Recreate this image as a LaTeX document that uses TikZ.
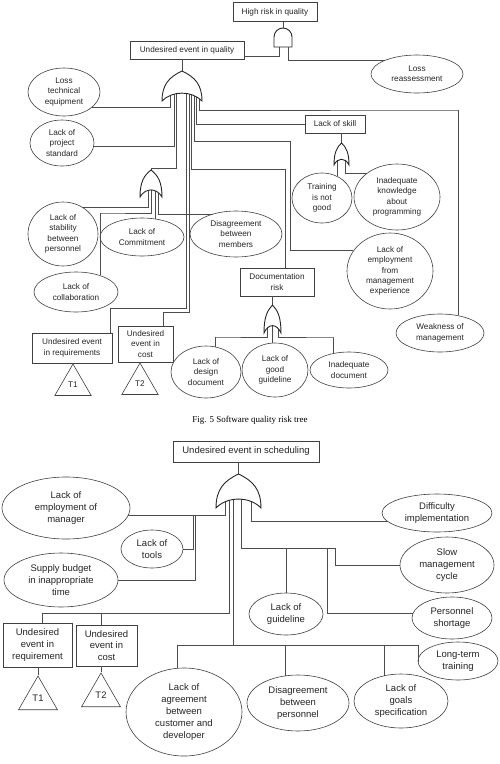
\documentclass[tikz,border=0pt]{standalone}
\usepackage{fontspec}
\setmainfont{Liberation Sans}
\newfontfamily\capfont{Liberation Serif}
\usetikzlibrary{shapes.geometric,calc}
\tikzset{
 ln/.style={draw=black!70, line width=0.55pt},
 gateln/.style={draw=black!85, line width=0.9pt, fill=white},
 gatebox/.style={inner sep=0pt, outer sep=0pt, draw=none},
 fa/.style={font=\fontsize{8.2}{10.3}\selectfont, text=black!85},
 fb/.style={font=\fontsize{9.5}{11.8}\selectfont, text=black!85},
 bx/.style={draw=black!75, line width=0.6pt, rectangle, inner sep=1pt, align=center, fill=white},
 ev/.style={draw=black!75, line width=0.6pt, ellipse, inner sep=0pt, align=center, fill=white},
 tri/.style={draw=black!75, line width=0.6pt, regular polygon, regular polygon sides=3, inner sep=0pt, fill=white},
}
% invisible gate frame: name, x, top y, width, height
\newcommand\gatenode[5]{\node[gatebox, minimum width=#4pt, minimum height=#5pt, anchor=north] (#1) at (#2,#3) {};}
% OR gate outline: name, width, height
\newcommand\orshape[3]{%
 \draw[gateln] (#1.south west) .. controls +(0,-0.55*#3) and +(-0.32*#2,0.2*#3) .. (#1.north)
   .. controls +(0.32*#2,0.2*#3) and +(0,-0.55*#3) .. (#1.south east)
   .. controls +(-0.25*#2,-0.35*#3) and +(0.25*#2,-0.35*#3) .. (#1.south west) -- cycle;}
\begin{document}
\begin{tikzpicture}[x=1pt,y=-1pt]
\useasboundingbox (0,0) rectangle (500,764);
\fill[white] (0,0) rectangle (500,764);

% ---------------- top tree ----------------
\node[bx,fa,minimum width=84pt,minimum height=19pt] (hr) at (275,12) {High risk in quality};
\node[bx,fa,minimum width=114pt,minimum height=18pt] (uq) at (187,50) {Undesired event in quality};
\node[ev,fa,minimum width=92pt,minimum height=38pt] (lr) at (417,74) {Loss\\reassessment};
\node[ev,fa,minimum width=72pt,minimum height=48pt] (lte) at (64,92) {Loss\\technical\\equipment};
\node[ev,fa,minimum width=64pt,minimum height=46pt] (lps) at (62,143) {Lack of\\project\\standard};
\node[bx,fa,minimum width=60pt,minimum height=18pt] (ls) at (335,124) {Lack of skill};
\node[ev,fa,minimum width=60pt,minimum height=50pt] (tr) at (322,198) {Training\\is not\\good};
\node[ev,fa,minimum width=86pt,minimum height=66pt] (ik) at (397,197) {Inadequate\\knowledge\\about\\programming};
\node[ev,fa,minimum width=70pt,minimum height=64pt] (stab) at (63,234) {Lack of\\stability\\between\\personnel};
\node[ev,fa,minimum width=84pt,minimum height=38pt] (com) at (142,237) {Lack of\\Commitment};
\node[ev,fa,minimum width=92pt,minimum height=46pt] (dm) at (236,234) {Disagreement\\between\\members};
\node[ev,fa,minimum width=86pt,minimum height=76pt] (emp) at (390,271) {Lack of\\employment\\from\\management\\experience};
\node[ev,fa,minimum width=84pt,minimum height=40pt] (col) at (76,292) {Lack of\\collaboration};
\node[bx,fa,minimum width=74pt,minimum height=28pt] (doc) at (277,282) {Documentation\\risk};
\node[ev,fa,minimum width=88pt,minimum height=38pt] (wm) at (440,333) {Weakness of\\management};
\node[bx,fa,minimum width=80pt,minimum height=30pt] (ur) at (72,348) {Undesired event\\in requirements};
\node[bx,fa,minimum width=55pt,minimum height=36pt] (uc) at (145.5,344) {Undesired\\event in\\cost};
\node[ev,fa,minimum width=70pt,minimum height=52pt] (dd) at (206,372) {Lack of\\design\\document};
\node[ev,fa,minimum width=66pt,minimum height=54pt] (gg) at (275,370) {Lack of\\good\\guideline};
\node[ev,fa,minimum width=78pt,minimum height=36pt] (id) at (349,370) {Inadequate\\document};
\node[tri,fa,minimum size=42pt] (t1) at (73,385) {T1};
\node[tri,fa,minimum size=42pt] (t2) at (140,384) {T2};

% gates (frames)
\node[gatebox, minimum width=18pt, minimum height=19pt, anchor=north] (gA) at (283,28) {};
\gatenode{g1}{182}{71}{40}{30}
\gatenode{g2}{151}{170}{22}{27}
\gatenode{g3}{341.5}{143}{15}{22}
\gatenode{g4}{272.5}{305}{17}{28}

% gate inputs
\coordinate (gA-1) at (279,40); \coordinate (gA-2) at (288,40);
\coordinate (g1-1) at (170.7,90); \coordinate (g1-2) at (174,90); \coordinate (g1-3) at (176.7,90);
\coordinate (g1-4) at (186,90); \coordinate (g1-5) at (189,90); \coordinate (g1-6) at (191.7,90);
\coordinate (g1-7) at (194.3,90); \coordinate (g1-8) at (196.7,90); \coordinate (g1-9) at (199.3,90);
\coordinate (g2-1) at (148.3,186); \coordinate (g2-2) at (151.7,186); \coordinate (g2-3) at (155,186); \coordinate (g2-4) at (158.3,186);
\coordinate (g3-1) at (337,156); \coordinate (g3-2) at (345,156);
\coordinate (g4-1) at (267,322); \coordinate (g4-2) at (272.5,322); \coordinate (g4-3) at (278,322);

% bends
\coordinate (bA1) at (279,56);
\coordinate (b13) at (176.7,168);
\coordinate (b14) at (110,308);
\coordinate (b15) at (163,312);
\coordinate (b16) at (285,169);
\coordinate (b17) at (290,141);
\coordinate (b19) at (458,110);
\coordinate (b22) at (100,213);
\coordinate (b41) at (215,337);
\coordinate (b43) at (333,337);

% connectors
\draw[ln] (gA.north) -- (gA.north |- hr.south);
\draw[ln] (gA-1) |- (bA1) -- (bA1 -| uq.east);
\draw[ln] (gA-2) |- (lr.156);
\draw[ln] (g1.north) -- (g1.north |- uq.south);
\draw[ln] (g1-1) |- (lte.-28);
\draw[ln] (g1-2) |- (lps.-5);
\draw[ln] (g1-3) |- (b13) -| (g2.north);
\draw[ln] (g1-4) |- (b14) -- (b14 |- ur.north);
\draw[ln] (g1-5) |- (b15) -- (b15 |- uc.north);
\draw[ln] (g1-6) |- (b16) -- (b16 |- doc.north);
\draw[ln] (g1-7) |- (b17) |- (emp.151);
\draw[ln] (g1-8) |- (ls.west);
\draw[ln] (g1-9) |- (b19) -| (wm.44);
\draw[ln] (g2-1) |- (stab.55);
\draw[ln] (g2-2) |- (b22) -| (col.34);
\draw[ln] (g2-3) -| (com.54);
\draw[ln] (g2-4) |- (dm.139);
\draw[ln] (g3.north) -- (g3.north |- ls.south);
\draw[ln] (g3-1) -| (tr.55);
\draw[ln] (g3-2) |- (ik.141);
\draw[ln] (g4.north) -- (g4.north |- doc.south);
\draw[ln] (g4-1) |- (b41) -| (dd.70);
\draw[ln] (g4-2) -- (g4-2 |- gg.north);
\draw[ln] (g4-3) |- (b43) -| (id.134);
\draw[ln] (t1.corner 1) -- (t1.corner 1 |- ur.south);
\draw[ln] (t2.corner 1) -- (t2.corner 1 |- uc.south);

% gate outlines
\draw[gateln] (gA.south west) -- ++(0,-10) arc[start angle=180,end angle=0,radius=9pt] -- (gA.south east) -- cycle;
\orshape{g1}{40}{30}
\orshape{g2}{22}{27}
\orshape{g3}{15}{22}
\orshape{g4}{17}{28}

% caption
\node[font=\capfont\fontsize{9}{11}\selectfont] (cap) at (250,420) {Fig. 5 Software quality risk tree};

% ---------------- bottom tree ----------------
\node[bx,fb,minimum width=146pt,minimum height=21pt] (us) at (246,451.5) {Undesired event in scheduling};
\node[ev,fb,minimum width=128pt,minimum height=62pt] (lem) at (66,508) {Lack of\\employment of\\manager};
\node[ev,fb,minimum width=62pt,minimum height=38pt] (lt) at (152,549) {Lack of\\tools};
\node[ev,fb,minimum width=114pt,minimum height=54pt] (sb) at (61,580) {Supply budget\\in inappropriate\\time};
\node[ev,fb,minimum width=110pt,minimum height=38pt] (di) at (437,513) {Difficulty\\implementation};
\node[ev,fb,minimum width=94pt,minimum height=56pt] (smc) at (447,565) {Slow\\management\\cycle};
\node[ev,fb,minimum width=80pt,minimum height=42pt] (ps) at (452,618) {Personnel\\shortage};
\node[ev,fb,minimum width=80pt,minimum height=38pt] (ltt) at (458,661) {Long-term\\training};
\node[ev,fb,minimum width=74pt,minimum height=42pt] (lg) at (286,614) {Lack of\\guideline};
\node[ev,fb,minimum width=116pt,minimum height=88pt] (la) at (184,712) {Lack of\\agreement\\between\\customer and\\developer};
\node[ev,fb,minimum width=102pt,minimum height=56pt] (dp) at (298,703) {Disagreement\\between\\personnel};
\node[ev,fb,minimum width=94pt,minimum height=54pt] (lgs) at (401,701) {Lack of\\goals\\specification};
\node[bx,fb,minimum width=69pt,minimum height=44pt] (ur2) at (37.5,645) {Undesired\\event in\\requirement};
\node[bx,fb,minimum width=61pt,minimum height=41pt] (uc2) at (106.5,645.5) {Undesired\\event in\\cost};
\node[tri,fb,minimum size=45pt] (t3) at (38,698.5) {T1};
\node[tri,fb,minimum size=45pt] (t4) at (101,695.5) {T2};

\gatenode{g5}{238.5}{474}{45}{34}
\coordinate (g5-1) at (225,494); \coordinate (g5-2) at (229.5,494); \coordinate (g5-3) at (233.3,494);
\coordinate (g5-4) at (241.7,494); \coordinate (g5-5) at (251,494);

\coordinate (b51) at (193,516);
\coordinate (b52) at (195,516);
\coordinate (b53) at (42,613);
\coordinate (b54) at (101,613);
\coordinate (b55) at (177,645);
\coordinate (b56) at (418,645);
\coordinate (b57) at (286,645);
\coordinate (b58) at (384,645);
\coordinate (b59) at (286.7,548);
\coordinate (b60) at (327.5,548);
\coordinate (b61) at (335.7,548);

\draw[ln] (g5.north) -- (g5.north |- us.south);
\draw[ln] (g5-1) |- (lem.-7);
\draw[ln] (b51) |- (lt.east);
\draw[ln] (b52) |- (sb.east);
\draw[ln] (g5-2) |- (b53) -- (b53 |- ur2.north);
\draw[ln] (b54) -- (b54 |- uc2.north);
\draw[ln] (g5-3) |- (b55) -| (la.99);
\draw[ln] (b55) -- (b56) |- (ltt.west);
\draw[ln] (b57) -| (dp.114);
\draw[ln] (b58) -| (lgs.124);
\draw[ln] (g5-4) |- (b61) |- (smc.west);
\draw[ln] (b59) -- (b59 |- lg.north);
\draw[ln] (b60) |- (ps.173);
\draw[ln] (g5-5) |- (di.190);
\draw[ln] (t3.corner 1) -- (t3.corner 1 |- ur2.south);
\draw[ln] (t4.corner 1) -- (t4.corner 1 |- uc2.south);

\orshape{g5}{45}{34}
\end{tikzpicture}
\end{document}
